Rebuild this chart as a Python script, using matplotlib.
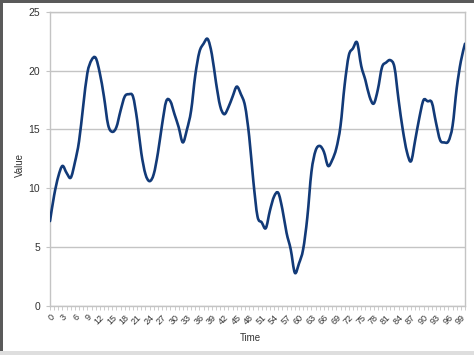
import matplotlib
matplotlib.use("Agg")
import matplotlib.pyplot as plt
from matplotlib.patches import Rectangle, PathPatch
from matplotlib.path import Path
from matplotlib.ticker import MultipleLocator

plt.rcParams['font.family'] = ['Liberation Sans', 'DejaVu Sans']

time = list(range(0, 101))
values = [7.2, 9.4, 11.0, 11.9, 11.3, 10.9, 12.2, 14.0, 17.0, 19.8,
          20.9, 21.1, 19.8, 17.8, 15.4, 14.8, 15.2, 16.6, 17.8, 18.0,
          17.8, 15.8, 13.0, 11.2, 10.6, 11.2, 13.0, 15.4, 17.4, 17.4,
          16.3, 15.2, 13.9, 15.0, 16.6, 19.6, 21.6, 22.3, 22.7, 21.4,
          19.0, 17.0, 16.3, 16.9, 17.8, 18.65, 18.0, 17.0, 14.4, 10.6,
          7.6, 7.1, 6.6, 8.1, 9.3, 9.6, 8.2, 6.2, 4.8, 2.8,
          3.6, 4.8, 7.5, 11.4, 13.2, 13.6, 13.1, 11.9, 12.4, 13.4,
          15.3, 18.8, 21.3, 21.9, 22.4, 20.4, 19.2, 17.8, 17.2, 18.4,
          20.3, 20.7, 20.9, 20.3, 17.5, 15.0, 13.1, 12.3, 14.1, 16.0,
          17.5, 17.4, 17.3, 15.6, 14.1, 13.9, 14.0, 15.3, 18.5, 20.8,
          22.3]
x_ticks = list(range(0, 100, 3))
y_ticks = [0, 5, 10, 15, 20, 25]

W, H = 474, 355
fig = plt.figure(figsize=(W / 100, H / 100), dpi=100)
fig.patch.set_facecolor('white')

# screenshot frame bands
fig.add_artist(Rectangle((0, 1 - 3 / H), 1, 3 / H, transform=fig.transFigure,
                         facecolor='#5a5a5a', edgecolor='none'))
fig.add_artist(Rectangle((0, 0), 3 / W, 1, transform=fig.transFigure,
                         facecolor='#5a5a5a', edgecolor='none'))
fig.add_artist(Rectangle((0, 0), 1, 4 / H, transform=fig.transFigure,
                         facecolor='#dedede', edgecolor='none'))

left, right = 50 / W, 465 / W
bottom, top = 49.3 / H, 343 / H
ax = fig.add_axes([left, bottom, right - left, top - bottom])

# smooth (Catmull-Rom style) rendering of the polyline through the data points
pts = list(zip(time, values))
n = len(pts)
verts = [pts[0]]
codes = [Path.MOVETO]
for i in range(n - 1):
    p0 = pts[i - 1] if i > 0 else pts[i]
    p1 = pts[i]
    p2 = pts[i + 1]
    p3 = pts[i + 2] if i + 2 < n else pts[i + 1]
    c1 = (p1[0] + (p2[0] - p0[0]) / 6, p1[1] + (p2[1] - p0[1]) / 6)
    c2 = (p2[0] - (p3[0] - p1[0]) / 6, p2[1] - (p3[1] - p1[1]) / 6)
    verts += [c1, c2, p2]
    codes += [Path.CURVE4] * 3
ax.add_patch(PathPatch(Path(verts, codes), facecolor='none', edgecolor='#123a78',
                       linewidth=1.9, joinstyle='round', capstyle='round',
                       zorder=3))

ax.set_xlim(0, 100)
ax.set_ylim(0, 25)
ax.set_yticks(y_ticks)
ax.set_xticks(x_ticks)
ax.xaxis.set_minor_locator(MultipleLocator(1))
ax.grid(axis='y', color='#c4c4c4', linewidth=1.0)
ax.set_axisbelow(True)

for s in ['left', 'right', 'bottom', 'top']:
    ax.spines[s].set_color('#c4c4c4')
    ax.spines[s].set_linewidth(1.0)

ax.tick_params(axis='y', length=3, width=0.8, color='#c4c4c4', labelsize=7.5,
               pad=4, labelcolor='#333333')
ax.tick_params(axis='x', which='both', length=3, width=0.6, color='#c4c4c4',
               labelsize=6.5, pad=2, labelcolor='#333333')
ax.set_xticklabels([str(t) for t in x_ticks], rotation=45, ha='right',
                   rotation_mode='anchor')

fig.text(250 / W, 1 - 338 / H, 'Time', ha='center', va='center', fontsize=7,
         color='#333333')
fig.text(20 / W, 1 - 165 / H, 'Value', ha='center', va='center', fontsize=7,
         color='#333333', rotation=90)

fig.savefig('out.png', dpi=100)
